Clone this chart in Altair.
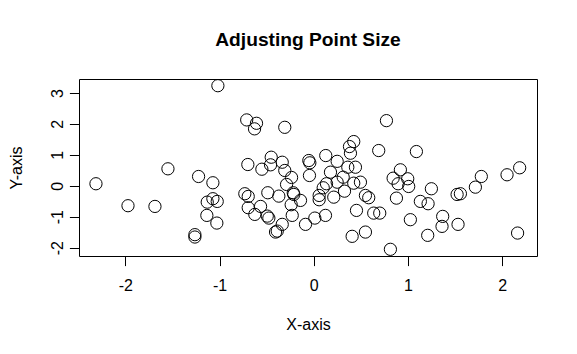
import altair as alt
import pandas as pd

x_vals = [
    -1.018, -1.548, -2.312, -1.223, -1.071, -1.972, -1.686, -1.131, -1.071, -1.025,
    -1.135, -1.029, -1.262, -1.262,
    -0.712, -0.608, -0.629, -0.308, -0.700, -0.452, -0.459, -0.551, -0.335, -0.308,
    -0.236, -0.289, -0.053, -0.042, -0.046, 0.127, 0.248, 0.177, 0.135, 0.100,
    0.057, 0.057, 0.212, 0.248, -0.732, -0.696, -0.696, -0.626, -0.565, -0.494,
    -0.477, -0.488, -0.371, -0.218, -0.212, -0.141, -0.240, -0.229, -0.335, -0.388,
    -0.406, -0.088, 0.011, 0.124,
    0.771, 0.424, 0.379, 0.389, 0.689, 1.089, 0.361, 0.442, 0.312, 0.326,
    0.424, 0.495, 0.548, 0.583, 0.453, 0.636, 0.700, 0.407, 0.548, 0.813,
    0.919, 0.842, 0.997, 0.895, 1.007, 0.877, 1.025, 1.131, 1.213, 1.248, 1.209,
    1.368, 1.361, 1.521, 1.556, 1.531, 1.715, 1.778, 2.051, 2.185, 2.163,
]
y_vals = [
    3.235, 0.548, 0.065, 0.300, 0.097, -0.645, -0.668, -0.529, -0.419, -0.506,
    -0.958, -1.206, -1.581, -1.658,
    2.129, 2.020, 1.840, 1.890, 0.687, 0.923, 0.677, 0.535, 0.761, 0.494,
    0.268, 0.042, 0.816, 0.742, 0.332, 0.977, 0.790, 0.439, 0.065, -0.065,
    -0.313, -0.452, -0.368, 0.116, -0.258, -0.345, -0.710, -0.926, -0.668, -0.981,
    -1.045, -0.226, -0.335, -0.226, -0.281, -0.474, -0.613, -0.958, -1.248, -1.465,
    -1.497, -1.248, -1.045, -0.958,
    2.106, 1.429, 1.268, 1.052, 1.139, 1.106, 0.600, 0.600, 0.277, -0.174,
    0.084, 0.116, -0.313, -0.387, -0.797, -0.884, -0.884, -1.635, -1.497, -2.055,
    0.516, 0.245, 0.226, 0.065, -0.023, -0.400, -1.097, -0.506, -0.581, -0.097, -1.603,
    -0.990, -1.313, -0.281, -0.258, -1.248, -0.045, 0.300, 0.355, 0.581, -1.529,
]
x_ticks = [-2, -1, 0, 1, 2]
y_ticks = [-2, -1, 0, 1, 2, 3]

df = pd.DataFrame({"x": x_vals, "y": y_vals})

FONT = "Liberation Sans"

chart = (
    alt.Chart(df)
    .mark_point(shape="circle", filled=False, size=150, color="black",
                strokeWidth=1, opacity=1)
    .encode(
        x=alt.X("x:Q",
                scale=alt.Scale(domain=[-2.492, 2.369], nice=False, zero=False),
                axis=alt.Axis(values=x_ticks, title="X-axis", domain=False, grid=False,
                              labelExpr="datum.value + ''",
                              tickSize=9.6, tickColor="black", labelPadding=25,
                              labelBaseline="alphabetic",
                              labelFontSize=16, labelFont=FONT, labelColor="black",
                              titleFont=FONT, titleFontSize=16, titleFontWeight="normal",
                              titleColor="black", titleX=229, titleY=73,
                              titleBaseline="alphabetic", titleAlign="center")),
        y=alt.Y("y:Q",
                scale=alt.Scale(domain=[-2.271, 3.452], nice=False, zero=False),
                axis=alt.Axis(values=y_ticks, title="Y-axis", domain=False, grid=False,
                              labelExpr="datum.value + ''",
                              tickSize=9.6, tickColor="black", labelPadding=7,
                              labelAngle=-90, labelAlign="center", labelBaseline="alphabetic",
                              labelFontSize=16, labelFont=FONT, labelColor="black",
                              titleFont=FONT, titleFontSize=16, titleFontWeight="normal",
                              titleColor="black", titleX=-57.6, titleY=88.5,
                              titleAngle=-90, titleBaseline="alphabetic", titleAlign="center")),
    )
    .properties(
        width=458,
        height=177,
        title=alt.TitleParams("Adjusting Point Size", font=FONT, fontSize=19.2,
                              fontWeight="bold", color="black", anchor="middle",
                              baseline="alphabetic", offset=12),
        padding={"left": 79, "top": 79, "right": 40, "bottom": 98},
        autosize=alt.AutoSizeParams(type="none"),
    )
    .configure(background="white")
    .configure_view(stroke="black", strokeWidth=1)
)

chart.save("out.html", embed_options={"renderer": "svg", "actions": False})
